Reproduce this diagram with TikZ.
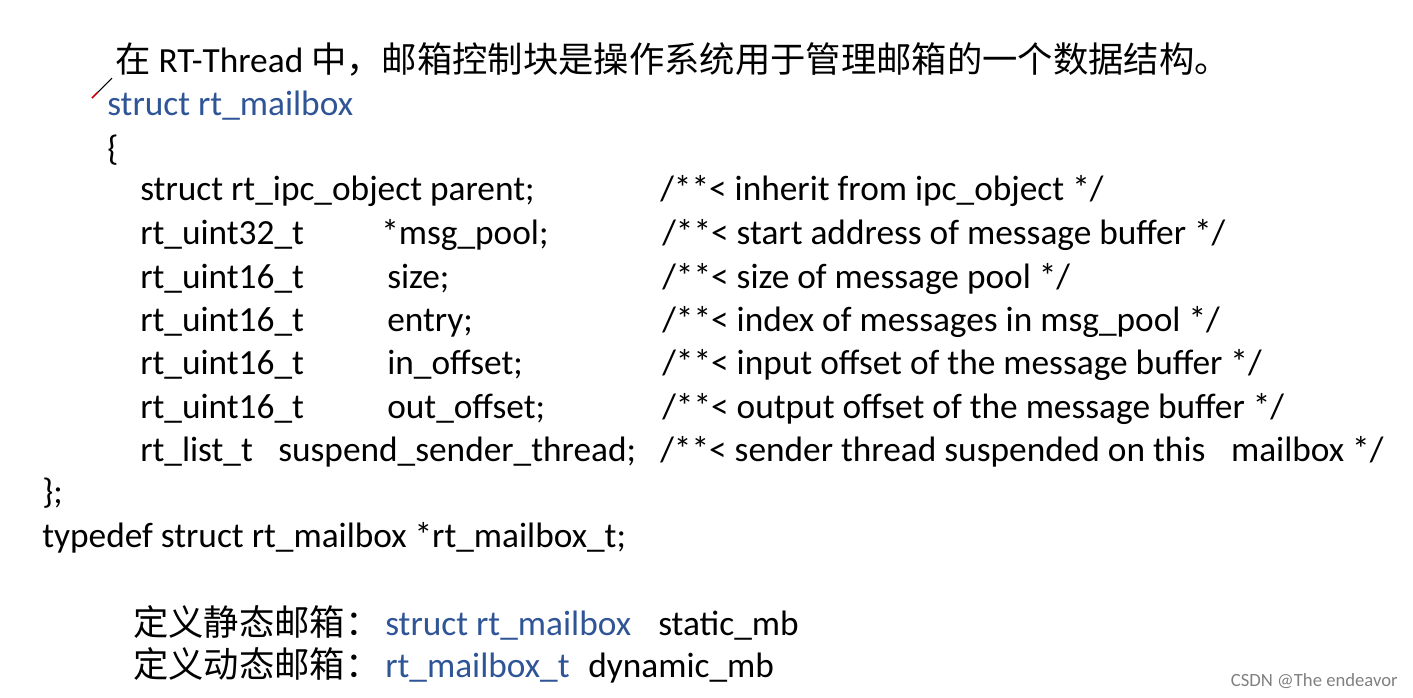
\documentclass[tikz,border=0pt]{standalone}
\usepackage{fontspec}
\setmainfont{Carlito}
\newfontfamily\cjk{Noto Sans CJK SC}
\definecolor{kwblue}{HTML}{2F5597}
\begin{document}
\begin{tikzpicture}[x=0.75pt,y=-0.75pt,
  txt/.style={anchor=base west,inner sep=0pt,font=\fontsize{26.5pt}{30pt}\selectfont},
  blu/.style={txt,text=kwblue}]
\useasboundingbox (0,0) rectangle (1413,697);
\node[txt] (t1) at (115,72) {{\cjk 在 }RT-Thread{\cjk\ 中，邮箱控制块是操作系统用于管理邮箱的一个数据结构。}};
\draw[red!80!black,line width=1.2pt] (92,98) -- (98,92);
\draw[black,line width=0.8pt] (98,92) -- (112,78);
\node[blu] (s) at (107,115) {struct rt\_mailbox};
\node[txt] (ob) at (107,160) {\{};
\node[txt] (a1) at (140,200) {struct rt\_ipc\_object parent;};
\node[txt] (c1) at (660,200) {/**< inherit from ipc\_object */};
\node[txt] (a2) at (140,244) {rt\_uint32\_t};
\node[txt] (b2) at (381,244) {*msg\_pool;};
\node[txt] (c2) at (662,244) {/**< start address of message buffer */};
\node[txt] (a3) at (140,288) {rt\_uint16\_t};
\node[txt] (b3) at (387,288) {size;};
\node[txt] (c3) at (662,288) {/**< size of message pool */};
\node[txt] (a4) at (140,331) {rt\_uint16\_t};
\node[txt] (b4) at (387,331) {entry;};
\node[txt] (c4) at (662,331) {/**< index of messages in msg\_pool */};
\node[txt] (a5) at (140,374) {rt\_uint16\_t};
\node[txt] (b5) at (387,374) {in\_offset;};
\node[txt] (c5) at (662,374) {/**< input offset of the message buffer */};
\node[txt] (a6) at (140,418) {rt\_uint16\_t};
\node[txt] (b6) at (387,418) {out\_offset;};
\node[txt] (c6) at (662,418) {/**< output offset of the message buffer */};
\node[txt] (a7) at (140,461) {rt\_list\_t};
\node[txt] (b7) at (278,461) {suspend\_sender\_thread;};
\node[txt] (c7) at (660,461) {/**< sender thread suspended on this\hspace{0.5em} mailbox */};
\node[txt] (cb) at (42,503) {\};};
\node[txt] (td) at (42,547) {typedef struct rt\_mailbox *rt\_mailbox\_t;};
\node[txt] (d1) at (133,635) {\cjk 定义静态邮箱：};
\node[blu] (d1b) at (385,635) {struct rt\_mailbox};
\node[txt] (d1c) at (658,635) {static\_mb};
\node[txt] (d2) at (133,677) {\cjk 定义动态邮箱：};
\node[blu] (d2b) at (385,677) {rt\_mailbox\_t};
\node[txt] (d2c) at (588,677) {dynamic\_mb};
\node[anchor=base east,inner sep=0pt,text=gray,font=\fontsize{14pt}{16pt}\selectfont] (wm) at (1398,686) {CSDN @The endeavor};
\end{tikzpicture}
\end{document}
